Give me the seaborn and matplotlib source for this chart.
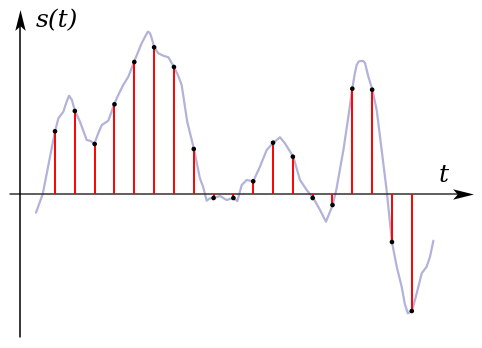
import matplotlib
matplotlib.use("Agg")
import matplotlib.pyplot as plt
from matplotlib.path import Path
import seaborn as sns
import numpy as np
import pandas as pd

# Continuous signal s(t)
curve_t = [0.04, 0.38, 1.00, 1.17, 1.42, 1.58, 1.71, 1.85, 2.01, 2.26, 2.60, 2.80, 2.98,
           3.18, 3.36, 3.69, 3.99, 4.19, 4.44, 4.70, 4.98, 5.37, 5.55, 5.68, 5.76, 5.83,
           6.01, 6.21, 6.46, 6.72, 7.00, 7.20, 7.39, 7.67, 8.01, 8.31, 8.47, 8.65,
           8.82, 9.01, 9.32, 9.66, 9.99, 10.20, 10.42, 10.67, 11.00, 11.34,
           11.68, 12.01, 12.35, 12.60, 13.02, 13.36, 13.70, 14.03, 14.37,
           14.67, 15.01, 15.20, 15.55, 15.80, 16.00, 16.12, 16.22, 16.32, 16.42, 16.55, 16.64,
           16.80, 17.01, 17.23, 17.48, 17.73, 18.00, 18.24, 18.49, 18.65, 18.80, 19.01,
           19.25, 19.50, 19.75, 19.92, 20.09]
curve_s = [-18.7, 0.0, 62.7, 75.7, 82.3, 92.0, 98.3, 94.0, 83.0, 72.3, 54.0, 53.0, 50.0,
           60.7, 69.0, 73.3, 90.0, 99.0, 109.0, 117.3, 131.7, 150.7, 157.5, 162.3, 161.5, 159.0,
           146.7, 140.7, 138.3, 136.7, 127.0, 119.0, 109.0, 72.3, 45.0, 15.7, 7.3, -6.7,
           -4.3, -4.0, -2.0, -6.0, -4.0, -7.0, 9.0, 14.0, 12.7, 27.3,
           44.0, 51.3, 56.7, 50.7, 37.3, 14.0, 4.0, -4.0, -16.0,
           -27.7, -11.0, 5.0, 44.0, 77.3, 105.3, 120.0, 129.0, 132.5, 133.0, 133.0, 131.0,
           118.0, 104.3, 84.0, 44.0, 4.0, -48.0, -72.7, -92.7, -110.0, -119.3, -117.0,
           -99.3, -79.3, -72.7, -62.7, -46.7]

# Samples s(n)
sample_n = [1, 2, 3, 4, 5, 6, 7, 8, 9, 10, 11, 12, 13, 14, 15, 16, 17, 18, 19]
sample_s = [62.7, 83.0, 50.0, 89.7, 132.0, 146.7, 127.0, 45.0, -4.0, -4.0,
            12.7, 51.3, 37.3, -4.0, -11.0, 105.3, 104.3, -48.0, -117.0]

curve = pd.DataFrame({"t": curve_t, "s": curve_s})
samples = pd.DataFrame({"t": sample_n, "s": sample_s})

sns.set_theme(style="white")
fig = plt.figure(figsize=(4.82, 3.48), dpi=100)
ax = fig.add_axes([0, 0, 1, 1])

# pixel mapping: t = (px - 35.2)/19.82, s = 194 - py
x0, dx = 35.2, 19.82
ax.set_xlim((0 - x0) / dx, (482 - x0) / dx)
ax.set_ylim(194 - 348, 194 - 0)
ax.axis("off")

sns.lineplot(data=curve, x="t", y="s", sort=False, ax=ax, color="#b2b2da",
             lw=1.6, zorder=1, solid_joinstyle="round", solid_capstyle="round")

# stealth-style arrowhead markers
def head(angle):
    v = np.array([[1.0, 0.0], [-1.0, 0.5], [-0.55, 0.0], [-1.0, -0.5], [1.0, 0.0]])
    c, s = np.cos(angle), np.sin(angle)
    v = v @ np.array([[c, s], [-s, c]])
    return Path(v, [Path.MOVETO, Path.LINETO, Path.LINETO, Path.LINETO, Path.CLOSEPOLY])

# horizontal axis
hx0, hx1 = (10 - x0) / dx, (463 - x0) / dx
ax.plot([hx0, hx1], [0, 0], color="#333333", lw=1.1, zorder=2)
ax.plot([hx1], [0], marker=head(0), markersize=15, color="black", mew=0, zorder=2)
# vertical axis
vx = (20.5 - x0) / dx
ax.plot([vx, vx], [194 - 337, 194 - 20], color="black", lw=1.1, zorder=2)
ax.plot([vx], [194 - 20], marker=head(np.pi / 2), markersize=15, color="black",
        mew=0, zorder=2)

ax.vlines(samples["t"], 0, samples["s"], colors="#ff0000", lw=1.4, zorder=3)
sns.scatterplot(data=samples, x="t", y="s", ax=ax, color="black", s=11,
                edgecolor="none", zorder=4)

ax.text((36 - x0) / dx, 194 - 27, "s(t)", fontsize=18, family="DejaVu Serif",
        style="italic", color="black", ha="left", va="baseline")
ax.text((444 - x0) / dx, 194 - 182, "t", fontsize=18, family="DejaVu Serif",
        style="italic", color="black", ha="center", va="baseline")

fig.savefig("out.png", dpi=100)
